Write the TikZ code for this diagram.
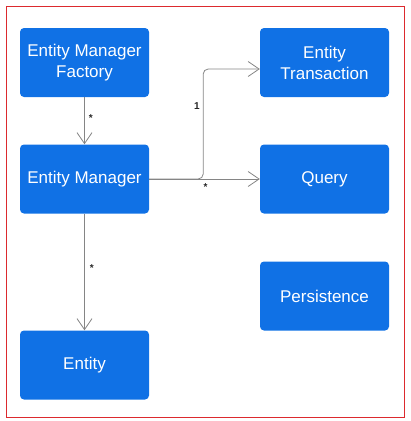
\documentclass[tikz,border=0pt]{standalone}
\usepackage{fontspec}
\setmainfont{Liberation Sans}
\usetikzlibrary{arrows.meta}
\definecolor{boxblue}{HTML}{1071E5}
\definecolor{linkgray}{HTML}{858585}
\definecolor{framered}{HTML}{DC2A2E}

\begin{document}
\begin{tikzpicture}[
  x=1pt,
  y=-1pt,
  entity/.style={fill=boxblue, rounded corners=4pt, inner sep=0pt,
                 minimum width=129pt, minimum height=69pt, text=white,
                 align=center, font=\fontsize{17}{21}\selectfont},
  link/.style={linkgray, line width=0.8pt,
               -{Straight Barb[length=11pt, width=15pt]}},
  mult/.style={font=\fontsize{10}{10}\selectfont\bfseries, text=black!85,
               inner sep=2pt}
]
  % ---- page and frame --------------------------------------------------
  \path[use as bounding box] (0,0) rectangle (411,421);
  \draw[framered, line width=0.8pt] (6,6) rectangle (404,417);

  % ---- the boxes ---------------------------------------------------------
  \node[entity] (factory) at (84.5,62.5)  {Entity Manager\\Factory};
  \node[entity] (manager) at (84.5,179)   {Entity Manager};
  \node[entity] (entity)  at (84.5,365)   {Entity};
  \node[entity] (trans)   at (324.5,62.5) {Entity\\Transaction};
  \node[entity] (query)   at (324.5,179)  {Query};
  \node[entity] (persist) at (324.5,296)  {Persistence};

  % ---- connectors with their multiplicities -----------------------------
  \draw[link] (factory) -- node[mult, anchor=west, pos=0.44, xshift=2pt]
    (multfm) {*} (manager);
  \draw[link] (manager) -- node[mult, anchor=west, pos=0.47, xshift=3pt]
    (multme) {*} (entity);
  \draw[link] (manager) -- node[mult, anchor=north, pos=0.51, yshift=-2pt]
    (multmq) {*} (query);
  \draw[link, rounded corners=5pt] (manager.east) -- ++(54,0)
    |- node[mult, anchor=east, pos=0.33, xshift=-1pt] (multmt) {1}
    ([yshift=-6.5pt]trans.west);

\end{tikzpicture}
\end{document}
